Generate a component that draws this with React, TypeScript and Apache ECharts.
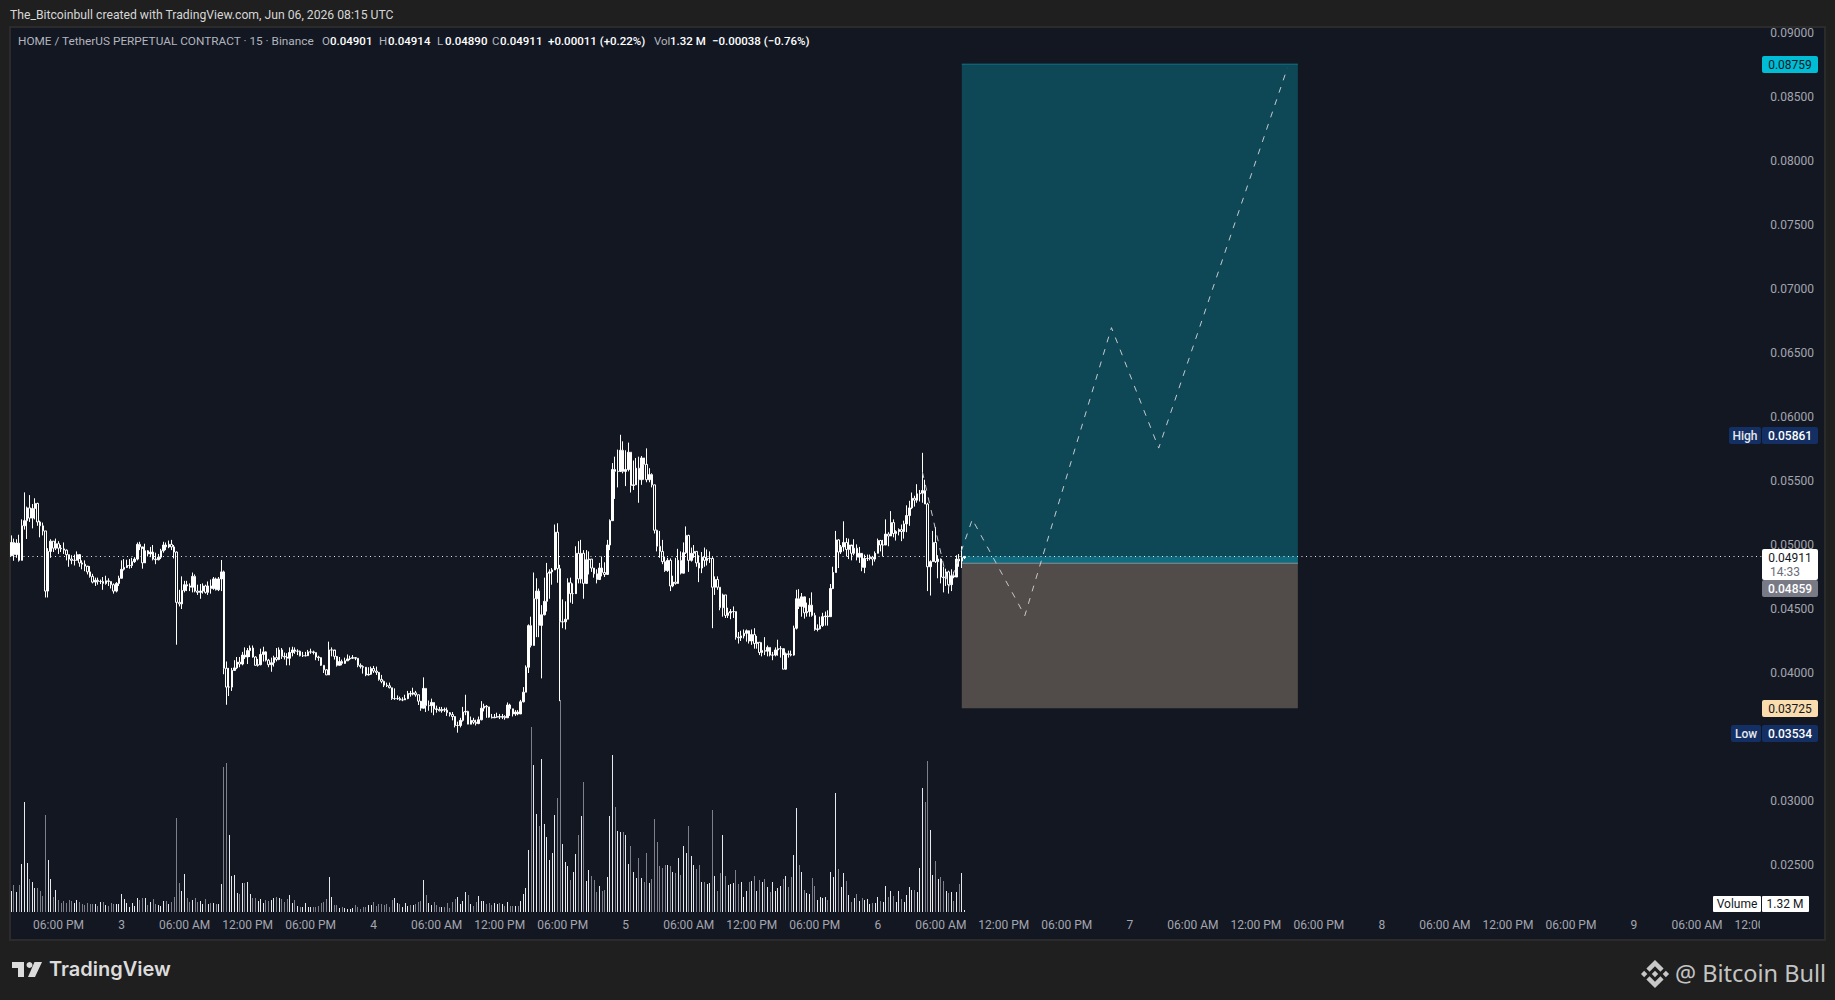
import React, { useEffect, useRef } from "react";
import * as echarts from "echarts";

// Prices in 1e-5 USDT. Volume in units of 0.66 M.
const firstOpen = 4916;
const closes = [
  5020,4925,5015,4880,5150,5190,5290,5210,5285,5325,5180,5150,5110,
  4640,4950,5030,4975,5010,4975,4970,4960,4925,4890,4880,4880,4925,
  4860,4850,4835,4790,4755,4710,4725,4715,4715,4700,4720,4715,4690,4640,4700,4740,
  4810,4825,4840,4840,4870,4890,5005,4985,4860,4955,4930,4945,4890,4885,4905,4955,5000,4985,5005,4985,4945,
  4552,4540,4645,4690,4680,4670,4755,4640,4630,4640,4680,4630,4680,4660,4735,4650,4735,4790,
  4037,3890,3890,4020,4040,4085,4070,4140,4125,4175,4195,4125,4060,4065,4145,4165,4100,4065,4080,
  4120,4105,4180,4130,4125,4115,4160,4180,4170,4170,4135,4135,
  4135,4165,4165,4160,4125,4120,4060,4025,3985,4180,4180,4130,4060,4090,4075,4095,4110,4115,4120,4115,
  4060,4050,4045,3985,3990,4035,4015,4005,3950,3935,3905,3900,3885,3800,3800,3800,3790,3790,3800,3840,
  3835,3845,3830,3780,3725,3880,3745,3745,3770,3720,3715,3705,3715,3710,3690,3675,3660,3590,3590,3630,
  3695,3700,3600,3630,3615,3605,3635,3725,3740,3735,3655,3650,3655,
  3660,3655,3660,3650,3750,3720,3680,3695,3680,3775,3850,4045,4370,4215,4580,4640,4372,4455,4560,4780,
  4790,4805,5100,4815,4400,4400,4420,4705,4620,4620,4935,4735,4935,4700,4885,4890,4820,4775,4730,4820,
  4785,4770,5000,5190,5590,5575,5575,5740,5575,5590,5725,5465,5470,5600,5510,5680,5630,5510,5550,5470,
  5115,4990,4950,4870,4800,4880,4680,4710,4700,4880,4780,4940,5075,4880,4935,4950,4860,4820,4905,4880,
  4895,4895,4670,4730,4670,4510,4610,4450,4470,4480,4480,4280,4275,4290,4310,4330,4250,4300,4230,4240,
  4160,4175,4170,4200,4140,4140,4180,4190,4190,4030,4150,4145,4140,4350,4580,4520,4595,4470,4480,4530,
  4450,4340,4345,4370,4440,4445,4440,4660,4785,5040,4945,4985,5020,4965,5000,4935,4975,4905,4935,4825,
  4895,4895,4905,4890,4935,5035,5000,5000,5085,5070,5175,5090,5105,5120,5105,5165,5230,5290,5365,5350,
  5400,5405,5425,5320,4830,4870,5020,4870,4890,4750,4745,4790,4690,4760,4750,4890,4875,4901,4911,
];
const highs = [
  5075,5050,5045,5080,5200,5411,5300,5390,5320,5365,5330,5190,5175,
  5110,4975,5045,5030,5050,5030,5000,5020,4965,4925,4920,4925,4950,
  4890,4880,4880,4830,4835,4775,4745,4745,4730,4750,4760,4740,4715,4700,4710,4760,
  4880,4890,4885,4890,4900,4905,5020,5025,4970,5010,4960,4985,5000,4940,4930,4970,5025,5020,5035,5040,5000,
  4950,4650,4755,4720,4720,4700,4785,4770,4690,4695,4700,4690,4715,4730,4750,4745,4750,4883,
  4800,4090,4040,4040,4100,4125,4125,4165,4200,4195,4215,4215,4130,4110,4190,4205,4170,4110,4120,
  4135,4195,4200,4195,4160,4155,4200,4205,4200,4185,4175,4165,
  4165,4180,4190,4175,4160,4135,4110,4060,4030,4245,4200,4175,4125,4125,4105,4120,4145,4135,4140,4125,
  4115,4075,4060,4025,4045,4050,4055,4050,4000,3985,3940,3925,3925,3885,3880,3825,3815,3810,3830,3860,
  3860,3885,3860,3830,3770,3966,3880,3785,3800,3770,3745,3735,3735,3730,3730,3695,3695,3650,3620,3650,
  3735,3830,3705,3660,3650,3635,3660,3780,3760,3750,3735,3680,3680,
  3690,3680,3680,3670,3770,3760,3700,3710,3710,3790,3890,4060,4380,4440,4785,4740,4660,4530,4745,4860,
  4810,4820,5160,5170,4845,4575,4560,4740,4745,4700,4990,5030,5040,4960,4960,4950,4890,4800,4810,4860,
  4910,4865,5040,5200,5640,5690,5745,5861,5810,5740,5800,5725,5660,5680,5690,5695,5680,5755,5600,5560,
  5470,5120,5110,5040,4910,4900,4895,4760,4900,4970,4950,5020,5145,5080,4980,5000,4950,4920,4945,4980,
  4965,4950,4905,4755,4755,4670,4620,4610,4510,4500,4520,4480,4320,4330,4340,4340,4300,4340,4350,4290,
  4240,4240,4280,4215,4200,4165,4200,4260,4210,4140,4160,4175,4175,4370,4650,4655,4625,4510,4550,4585,
  4630,4470,4380,4440,4470,4480,4490,4695,4830,5110,5045,5000,5185,5055,5050,4990,5045,5005,4985,4925,
  4925,4925,4925,4915,4950,5050,5040,5040,5200,5100,5265,5200,5115,5130,5160,5190,5310,5345,5410,5385,
  5475,5430,5720,5510,5330,4880,5110,5140,4920,4895,4830,4815,4800,4810,4790,4920,4930,4990,4914,
];
const lows = [
  4916,4877,4900,4870,4880,5120,5047,5180,5130,5200,5150,5060,5075,
  4590,4590,4900,4945,4960,4930,4945,4930,4880,4830,4850,4840,4880,
  4830,4810,4795,4770,4745,4700,4680,4690,4695,4650,4690,4680,4660,4620,4630,4680,
  4740,4800,4820,4815,4820,4860,4880,4960,4815,4860,4910,4905,4880,4850,4880,4890,4940,4960,4975,4960,4895,
  4221,4520,4500,4630,4640,4640,4630,4630,4610,4580,4620,4620,4610,4620,4650,4645,4640,4640,
  3990,3752,3820,3860,4020,4030,4045,4060,4110,4070,4125,4120,4060,4050,4060,4090,4090,4045,4010,
  4050,4090,4100,4110,4105,4060,4060,4130,4150,4140,4130,4125,
  4130,4140,4150,4145,4100,4095,4055,4000,3985,3985,4130,4105,4050,4060,4060,4085,4095,4100,4110,4100,
  4045,4035,3995,3975,3980,3985,4000,3985,3940,3920,3890,3890,3880,3790,3790,3790,3785,3780,3795,3795,
  3815,3825,3815,3750,3705,3730,3695,3705,3690,3670,3690,3700,3690,3695,3665,3660,3630,3575,3534,3575,
  3620,3670,3600,3600,3600,3590,3600,3630,3700,3650,3650,3645,3650,
  3650,3640,3640,3635,3650,3665,3660,3665,3670,3680,3770,3850,4000,4200,4215,4280,4280,3958,4450,4480,
  4580,4690,4810,4705,3780,4350,4340,4420,4550,4540,4720,4700,4700,4580,4695,4770,4790,4745,4700,4750,
  4755,4750,4785,4960,5190,5360,5450,5570,5560,5460,5575,5410,5430,5470,5330,5470,5510,5490,5490,5450,
  5090,4950,4900,4850,4790,4790,4640,4670,4690,4720,4770,4800,4930,4790,4870,4900,4830,4710,4780,4830,
  4840,4860,4350,4610,4650,4490,4440,4430,4430,4420,4430,4260,4230,4250,4270,4245,4230,4220,4190,4190,
  4140,4130,4140,4130,4130,4100,4130,4135,4120,4030,4025,4120,4130,4135,4340,4500,4440,4425,4440,4440,
  4440,4330,4325,4340,4360,4370,4370,4440,4655,4785,4820,4930,4950,4910,4890,4880,4920,4880,4860,4795,
  4780,4875,4880,4840,4870,4935,4950,4910,5000,4990,5100,5060,5035,5075,5030,5050,5100,5150,5280,5300,
  5330,5340,5330,5320,4640,4605,4870,4860,4740,4700,4630,4680,4620,4640,4740,4800,4830,4820,4890,
];
const volumes = [
  21,27,20,27,48,110,49,33,30,24,24,21,16,97,52,33,15,22,12,9,11,9,12,11,9,12,10,8,7,9,8,8,8,6,10,10,7,6,9,8,8,8,
  18,13,9,5,9,6,14,12,14,14,7,10,13,8,7,6,11,11,8,10,15,94,29,21,38,14,10,12,14,10,11,8,13,8,9,9,8,8,28,145,149,77,
  36,37,19,18,29,29,30,18,14,14,11,13,9,12,11,12,14,15,14,13,10,13,17,9,12,6,5,5,9,5,5,5,5,6,9,10,13,35,15,7,7,4,5,4,
  3,3,4,7,5,3,5,5,7,7,10,6,8,8,7,8,5,12,14,9,8,5,9,6,7,7,8,10,11,32,17,9,7,10,7,5,5,5,9,4,10,13,15,8,11,20,17,8,6,10,
  16,11,11,8,9,7,9,8,
  9,8,6,10,6,6,6,6,11,18,24,62,185,147,98,86,153,88,75,52,59,97,114,212,68,50,46,32,40,58,77,96,130,31,42,36,32,20,26,21,22,35,96,157,105,81,80,80,77,48,
  66,40,34,54,34,30,59,29,33,93,70,46,44,47,47,46,40,39,54,37,66,59,86,56,47,43,47,30,30,28,29,102,36,21,39,77,36,27,28,29,42,28,30,15,21,30,31,36,21,32,
  30,33,25,20,30,21,24,26,33,36,25,35,57,104,47,40,22,19,18,34,26,12,15,14,15,12,40,35,119,43,25,39,31,17,10,14,18,11,14,12,13,8,9,9,15,11,10,26,15,21,
  16,10,21,13,10,17,25,22,22,20,44,124,110,151,82,37,51,33,35,31,21,19,20,11,20,28,39,2,
];
const tickLabels = [
  "06:00 PM","3","06:00 AM","12:00 PM","06:00 PM","4","06:00 AM","12:00 PM","06:00 PM","5",
  "06:00 AM","12:00 PM","06:00 PM","6","06:00 AM","12:00 PM","06:00 PM","7","06:00 AM","12:00 PM",
  "06:00 PM","8","06:00 AM","12:00 PM","06:00 PM","9","06:00 AM","12:00 PM",
];
const firstTickIndex = 18;
const barsPerTick = 24;
const totalBars = 667;
const currentPrice = 0.04911;
const entryPrice = 0.04859;
const targetPrice = 0.08759;
const stopPrice = 0.03725;
const positionStart = 362;
const positionEnd = 490;
const projection: [number, number][] = [
  [347, 0.0557], [357, 0.0467], [366, 0.0520], [386, 0.04448], [419, 0.06698], [437, 0.05757], [486, 0.08727],
];

const PANE = "#131722";
const OUTER = "#1f1f1f";
const FRAME = "#2b2b2b";
const AXIS_TEXT = "#a3a6af";
const FONT = "Roboto, sans-serif";

const BINANCE = "M38.73 53.2l24.59-24.58 24.6 24.6 14.3-14.31L63.32 0 24.43 38.9zM0 63.31l14.3-14.31 14.31 14.31-14.31 14.3zM38.73 73.41l24.59 24.59 24.6-24.6 14.31 14.29-38.9 38.91-38.91-38.88-.02-.02zM98.28 63.32l14.3-14.31 14.31 14.3-14.31 14.32zM77.83 63.3L63.32 48.78 48.8 63.3 63.32 77.82z";
echarts.graphic.registerShape("binanceLogo", echarts.graphic.extendPath(BINANCE, {}) as any);

function txt(text: string, x: number, y: number, fill: string, fontSize = 12, align = "left", weight = "normal", family = FONT) {
  return {
    type: "text", x, y, z: 20, silent: true,
    style: { text, fill, font: `${weight} ${fontSize}px ${family}`, align, verticalAlign: "middle" },
  };
}
function box(x: number, y: number, width: number, height: number, fill: string, r = 2) {
  return { type: "rect", z: 15, silent: true, shape: { x, y, width, height, r }, style: { fill } };
}

export default function App() {
  const ref = useRef<HTMLDivElement>(null);
  useEffect(() => {
    document.body.style.margin = "0";
    document.body.style.background = OUTER;
    const chart = echarts.init(ref.current!, null, { renderer: "svg" });
    const opens = closes.map((_, i) => (i === 0 ? firstOpen : closes[i - 1]));
    const candleData = closes.map((c, i) => [opens[i] / 1e5, c / 1e5, lows[i] / 1e5, highs[i] / 1e5]);
    const categories = Array.from({ length: totalBars }, (_, i) => String(i));
    const tickAt = (i: number) => {
      const k = (i - firstTickIndex) / barsPerTick;
      return Number.isInteger(k) && k >= 0 && k < tickLabels.length ? tickLabels[k] : "";
    };
    const volumeData = volumes.map((v, i) => [i, v]);

    const axX = { left: 10, width: 1751.3 };
    const xBase = { type: "category", data: categories, axisLine: { show: false }, axisTick: { show: false }, splitLine: { show: false } };
    chart.setOption({
      animation: false,
      backgroundColor: OUTER,
      grid: [
        { ...axX, top: 33, height: 896 },
        { ...axX, top: 692, height: 220 },
      ],
      xAxis: [
        { ...xBase, gridIndex: 0, axisLabel: { show: false } },
        {
          ...xBase, gridIndex: 1,
          axisLabel: {
            interval: (i: number) => tickAt(i) !== "",
            formatter: (_: string, i: number) => tickAt(i),
            color: AXIS_TEXT, fontFamily: FONT, fontSize: 12, margin: 7, hideOverlap: false,
          },
        },
      ],
      yAxis: [
        {
          gridIndex: 0, type: "value", position: "right", min: 0.02, max: 0.09, interval: 0.005,
          splitLine: { show: false }, axisLine: { show: false }, axisTick: { show: false },
          axisLabel: {
            color: AXIS_TEXT, fontFamily: FONT, fontSize: 12, margin: 9,
            formatter: (v: number) => (v < 0.0225 ? "" : v.toFixed(5)),
          },
        },
        { gridIndex: 1, type: "value", min: 0, max: 220, show: false },
      ],
      series: [
        {
          type: "candlestick", xAxisIndex: 0, yAxisIndex: 0, z: 4, barWidth: 2,
          data: candleData,
          itemStyle: { color: "#ffffff", color0: PANE, borderColor: "#ffffff", borderColor0: "#ffffff", borderWidth: 1 },
          markArea: {
            silent: true,
            itemStyle: { opacity: 1 },
            data: [
              [{ xAxis: positionStart, yAxis: entryPrice, itemStyle: { color: "#0e4856" } }, { xAxis: positionEnd, yAxis: targetPrice }],
              [{ xAxis: positionStart, yAxis: targetPrice - 0.00008, itemStyle: { color: "#0e6b80" } }, { xAxis: positionEnd, yAxis: targetPrice }],
              [{ xAxis: positionStart, yAxis: entryPrice, itemStyle: { color: "#0e6b80" } }, { xAxis: positionEnd, yAxis: currentPrice }],
              [{ xAxis: positionStart, yAxis: stopPrice, itemStyle: { color: "#514b49" } }, { xAxis: positionEnd, yAxis: entryPrice }],
              [{ xAxis: positionStart, yAxis: entryPrice - 0.00006, itemStyle: { color: "#8a8f92" } }, { xAxis: positionEnd, yAxis: entryPrice + 0.00002 }],
            ],
          },
          markLine: {
            silent: true, symbol: "none", label: { show: false }, precision: 5,
            data: [{ yAxis: currentPrice, lineStyle: { color: "#ffffff", type: [1, 3.5], width: 1, opacity: 0.9 } }],
          },
        },
        {
          type: "line", xAxisIndex: 0, yAxisIndex: 0, z: 6, symbol: "none", silent: true,
          data: projection,
          lineStyle: { color: "#c6cacf", width: 1, type: [6, 7] },
        },
        {
          type: "custom", xAxisIndex: 1, yAxisIndex: 1, z: 3, silent: true,
          data: volumeData,
          encode: { x: 0, y: 1 },
          renderItem: (_: any, api: any) => {
            const i = api.value(0);
            const top = api.coord([i, api.value(1)]);
            const base = api.coord([i, 0]);
            const up = closes[i] >= opens[i];
            return {
              type: "rect",
              shape: { x: Math.floor(top[0]), y: Math.round(top[1]), width: 1, height: Math.round(base[1]) - Math.round(top[1]) },
              style: { fill: up ? "#e8e9ec" : "#7d808a" },
            };
          },
        },
      ],
      graphic: [
        // pane and frame
        { type: "rect", z: 0, silent: true, shape: { x: 10, y: 27, width: 1815, height: 913 }, style: { fill: PANE, stroke: FRAME, lineWidth: 2 } },
        // clip of the time axis at the price scale
        { type: "rect", z: 10, silent: true, shape: { x: 1760, y: 913, width: 64, height: 26 }, style: { fill: PANE } },
        // header
        txt("The_Bitcoinbull created with TradingView.com, Jun 06, 2026 08:15 UTC", 10, 15, "#d6d6d6", 12.2),
        txt("HOME / TetherUS PERPETUAL CONTRACT · 15 · Binance", 18, 41, "#b2b5be", 11.8),
        txt("O", 322, 41, "#b2b5be", 11.5), txt("0.04901", 330, 41, "#ffffff", 11.5, "left", "500"),
        txt("H", 379, 41, "#b2b5be", 11.5), txt("0.04914", 388, 41, "#ffffff", 11.5, "left", "500"),
        txt("L", 437, 41, "#b2b5be", 11.5), txt("0.04890", 445, 41, "#ffffff", 11.5, "left", "500"),
        txt("C", 492, 41, "#b2b5be", 11.5), txt("0.04911", 500, 41, "#ffffff", 11.5, "left", "500"),
        txt("+0.00011 (+0.22%)", 548, 41, "#ffffff", 11.5, "left", "500"),
        txt("Vol", 654, 41, "#b2b5be", 11.5), txt("1.32 M", 670, 41, "#ffffff", 11.5, "left", "500"),
        txt("−0.00038 (−0.76%)", 712, 41, "#ffffff", 11.5, "left", "500"),
        // price tags
        box(1762, 56, 56, 17, "#00bcd4"), txt("0.08759", 1790, 65, "#0c1a24", 12, "center"),
        box(1729, 427, 32, 17, "#132f63"), txt("High", 1745, 436, "#e6e8ee", 12, "center", "500"),
        box(1762, 427, 56, 17, "#132f63"), txt("0.05861", 1790, 436, "#ffffff", 12, "center", "500"),
        box(1762, 549, 56, 31, "#ffffff"), txt("0.04911", 1790, 558, "#131722", 12, "center"), txt("14:33", 1770, 572, "#6a6d78", 12, "left"),
        box(1762, 580, 56, 17, "#787b86"), txt("0.04859", 1790, 589, "#ffffff", 12, "center", "500"),
        box(1762, 700, 56, 17, "#fbdcae"), txt("0.03725", 1790, 709, "#131722", 12, "center"),
        box(1731, 725, 30, 17, "#132f63"), txt("Low", 1746, 734, "#e6e8ee", 12, "center", "500"),
        box(1762, 725, 56, 17, "#132f63"), txt("0.03534", 1790, 734, "#ffffff", 12, "center", "500"),
        // volume legend
        box(1713, 896, 48, 16, "#ffffff", 1), txt("Volume", 1737, 904, "#131722", 12, "center"),
        box(1762, 896, 47, 16, "#ffffff", 1), txt("1.32 M", 1785, 904, "#131722", 12, "center"),
        // TradingView logo
        { type: "polygon", z: 20, silent: true, shape: { points: [[12, 962], [24, 962], [24, 977], [18, 977], [18, 968], [12, 968]] }, style: { fill: "#dcdcdc" } },
        { type: "circle", z: 20, silent: true, shape: { cx: 29.5, cy: 965, r: 3 }, style: { fill: "#dcdcdc" } },
        { type: "polygon", z: 20, silent: true, shape: { points: [[34.5, 962], [42, 962], [35, 977], [28, 977]] }, style: { fill: "#dcdcdc" } },
        txt("TradingView", 49, 969, "#dcdcdc", 20, "left", "600", "Inter, Roboto, sans-serif"),
        // watermark
        { type: "binanceLogo", z: 20, silent: true, x: 1641, y: 960, scaleX: 0.221, scaleY: 0.221, style: { fill: "#c8c8c8" } },
        txt("@ Bitcoin Bull", 1675, 973, "#c4c4c4", 23.5, "left", "normal", "'Noto Sans', sans-serif"),
      ],
    });
    return () => chart.dispose();
  }, []);
  return <div ref={ref} style={{ position: "fixed", left: 0, top: 0, width: 1835, height: 1000 }} />;
}
